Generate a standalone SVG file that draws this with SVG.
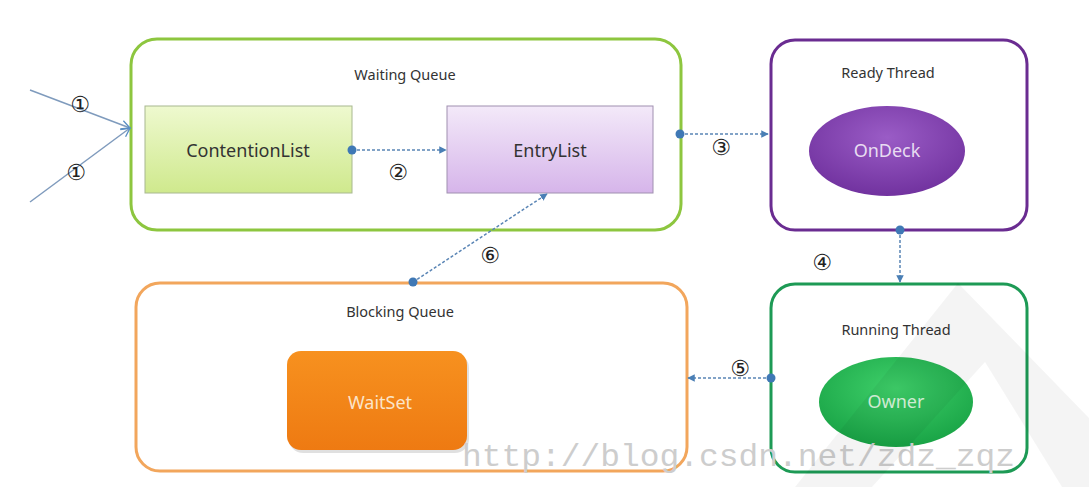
<svg xmlns="http://www.w3.org/2000/svg" width="1089" height="487" viewBox="0 0 1089 487">
<defs>
<linearGradient id="gCL" x1="0" y1="0" x2="0" y2="1"><stop offset="0" stop-color="#eef9cf"/><stop offset="1" stop-color="#cfe98d"/></linearGradient>
<linearGradient id="gEL" x1="0" y1="0" x2="0" y2="1"><stop offset="0" stop-color="#f3e9f9"/><stop offset="1" stop-color="#d6b5ea"/></linearGradient>
<linearGradient id="gWS" x1="0" y1="0" x2="0" y2="1"><stop offset="0" stop-color="#f7911f"/><stop offset="1" stop-color="#ee7a12"/></linearGradient>
<radialGradient id="gOD" cx="0.5" cy="0.35" r="0.7"><stop offset="0" stop-color="#9a5cc6"/><stop offset="1" stop-color="#6e2f9c"/></radialGradient>
<radialGradient id="gOW" cx="0.5" cy="0.35" r="0.7"><stop offset="0" stop-color="#3fd06a"/><stop offset="1" stop-color="#16a043"/></radialGradient>
<marker id="ah" viewBox="0 0 10 10" refX="9" refY="5" markerWidth="5" markerHeight="5" orient="auto"><path d="M0,0 L10,5 L0,10 z" fill="#4a7fb5"/></marker>
<marker id="ao" viewBox="0 0 12 12" refX="11" refY="6" markerWidth="7" markerHeight="7" orient="auto"><path d="M1,1 L11,6 L1,11" fill="none" stroke="#5a8ec4" stroke-width="1.5"/></marker>
</defs>
<style>
.lbl{font-family:"Noto Sans","Liberation Sans",sans-serif;font-size:14.5px;fill:#333;text-anchor:middle}
.in{font-family:"Noto Sans","Liberation Sans",sans-serif;font-size:18px;text-anchor:middle}
.num{font-family:"DejaVu Sans",sans-serif;font-size:22px;fill:#222;text-anchor:middle}
.dash{stroke:#5a85b5;stroke-width:1.5;stroke-dasharray:3,2;fill:none;marker-end:url(#ah)}
.dot{fill:#3f78b5}
</style>
<rect width="1089" height="487" fill="#fff"/>
<g id="waiting-queue">
<rect x="131" y="39" width="550" height="191" rx="26" fill="#fff" stroke="#8dc63f" stroke-width="3"/>
<text class="lbl" x="405" y="80">Waiting Queue</text>
</g>
<g id="contention-list">
<rect x="145" y="106" width="207" height="87" fill="url(#gCL)" stroke="#a8b890" stroke-width="1"/>
<text class="in" x="248" y="157" fill="#333">ContentionList</text>
</g>
<g id="entry-list">
<rect x="447" y="106" width="206" height="87" fill="url(#gEL)" stroke="#a090b0" stroke-width="1"/>
<text class="in" x="550" y="157" fill="#333">EntryList</text>
</g>
<g id="ready-thread">
<rect x="771" y="40" width="256" height="190" rx="24" fill="#fff" stroke="#6a2c91" stroke-width="3"/>
<text class="lbl" x="888" y="78">Ready Thread</text>
</g>
<g id="ondeck">
<ellipse cx="887" cy="151" rx="78" ry="45" fill="url(#gOD)"/>
<text class="in" x="887" y="157" fill="#e8dcf2">OnDeck</text>
</g>
<g id="running-thread">
<rect x="771" y="284" width="256" height="188" rx="24" fill="#fff" stroke="#1d9a55" stroke-width="3"/>
<text class="lbl" x="896" y="335">Running Thread</text>
</g>
<g id="owner">
<ellipse cx="896" cy="402" rx="77" ry="45" fill="url(#gOW)"/>
<text class="in" x="896" y="408" fill="#d8f5dc">Owner</text>
</g>
<g id="blocking-queue">
<rect x="136" y="283" width="551" height="188" rx="24" fill="#fff" stroke="#f2a65c" stroke-width="3"/>
<text class="lbl" x="400" y="317">Blocking Queue</text>
</g>
<g id="waitset">
<rect x="289" y="354" width="180" height="99" rx="14" fill="#000" opacity="0.12"/>
<rect x="287" y="351" width="180" height="99" rx="14" fill="url(#gWS)"/>
<text class="in" x="380" y="409" fill="#fbe4c8">WaitSet</text>
</g>
<g id="connectors">
<line x1="30" y1="90" x2="130" y2="128" stroke="#7f9bbd" stroke-width="1.5" marker-end="url(#ao)"/>
<line x1="30" y1="202" x2="130" y2="128" stroke="#7f9bbd" stroke-width="1.5" marker-end="url(#ao)"/>
<text class="num" x="80" y="112">①</text>
<text class="num" x="76" y="180">①</text>
<line class="dash" x1="352" y1="150" x2="446" y2="150"/>
<circle class="dot" cx="352" cy="150" r="4.5"/>
<text class="num" x="398" y="180">②</text>
<line class="dash" x1="680" y1="134" x2="768" y2="134"/>
<circle class="dot" cx="680" cy="134" r="4.5"/>
<text class="num" x="721" y="155">③</text>
<line class="dash" x1="900" y1="230" x2="900" y2="282"/>
<circle class="dot" cx="900" cy="230" r="4.5"/>
<text class="num" x="822" y="270">④</text>
<line class="dash" x1="771" y1="378" x2="688" y2="378"/>
<circle class="dot" cx="771" cy="378" r="4.5"/>
<text class="num" x="740" y="376">⑤</text>
<line class="dash" x1="413" y1="282" x2="547" y2="194"/>
<circle class="dot" cx="413" cy="282" r="4.5"/>
<text class="num" x="490" y="263">⑥</text>
</g>
<g id="watermark">
<text x="462" y="466" textLength="553" lengthAdjust="spacingAndGlyphs" style="font-family:'Liberation Mono',monospace;font-size:32px;fill:#cdcdcd">http://blog.csdn.net/zdz_zqz</text>
<polygon points="795,487 958,283 1089,418 1089,487 1062,487 985,362 872,487" fill="#000" opacity="0.045"/>
</g>
</svg>
